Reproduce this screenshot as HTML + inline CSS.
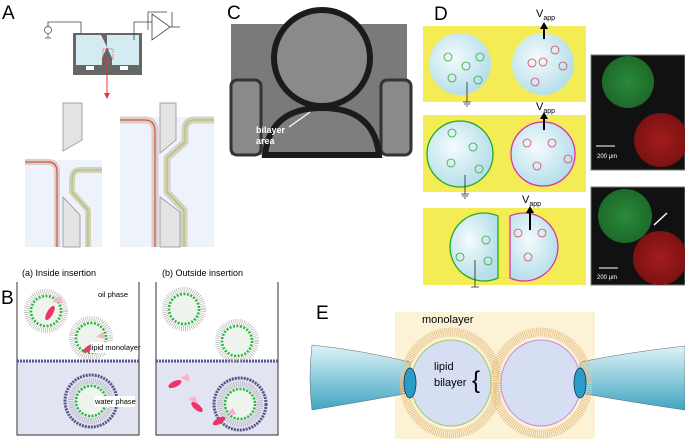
<!DOCTYPE html>
<html><head><style>body{margin:0;background:#fff}svg{display:block}text{font-family:"Liberation Sans",sans-serif}</style></head><body>
<svg width="685" height="441" viewBox="0 0 685 441" xmlns="http://www.w3.org/2000/svg">
<defs>
<radialGradient id="dr" cx="40%" cy="40%" r="60%"><stop offset="0" stop-color="#f4fbfd"/><stop offset="1" stop-color="#b7dfea"/></radialGradient>
<linearGradient id="pip" x1="0" y1="0" x2="0" y2="1"><stop offset="0" stop-color="#dff3f8"/><stop offset="1" stop-color="#3fa5c0"/></linearGradient>
<radialGradient id="gr" cx="50%" cy="50%" r="50%"><stop offset="0" stop-color="#2a8a3a"/><stop offset="1" stop-color="#1d6a2a"/></radialGradient>
<radialGradient id="rd" cx="50%" cy="50%" r="50%"><stop offset="0" stop-color="#a31c1c"/><stop offset="1" stop-color="#7d1212"/></radialGradient>
</defs>
<!-- A -->
<text x="2" y="19" font-size="19">A</text>
<path d="M48 30 V22 H81 V40" fill="none" stroke="#444" stroke-width="0.8"/>
<circle cx="48" cy="30" r="3.5" fill="#fff" stroke="#444" stroke-width="0.7"/>
<path d="M48 34 V38 M45 38 H51" stroke="#444" stroke-width="0.7"/>
<rect x="73" y="33" width="69" height="42" fill="#666"/>
<rect x="76" y="35" width="63" height="30" fill="#d3ecf2"/>
<path d="M100 33 L107 33 L107 47 L102 58 L102 65 L112 65 L112 58 L107 47 Z" fill="#666"/>
<rect x="103" y="49" width="10" height="10" fill="none" stroke="#e33" stroke-width="0.7" stroke-dasharray="1.5 1"/>
<rect x="86" y="66" width="8" height="4" fill="#fff"/><rect x="120" y="66" width="8" height="4" fill="#fff"/>
<path d="M134 40 V22 H152 M167 12 H148 V30 M172 12 V27" fill="none" stroke="#444" stroke-width="0.8"/>
<path d="M152 14 L152 40 L170 27 Z" fill="#fff" stroke="#444" stroke-width="0.8"/>
<path d="M170 27 H180" stroke="#444" stroke-width="0.8"/>
<path d="M107 58 V98" stroke="#e33" stroke-width="1"/><path d="M104 93 L107 99 L110 93 Z" fill="#e33"/>
<path d="M63 103 H82 V140 L63 151 Z" fill="#e4e4e4" stroke="#888" stroke-width="0.7"/>
<rect x="25" y="160" width="77" height="87" fill="#eef2fa"/>
<path d="M25 162 H48 Q57 162 57 172 V247" fill="none" stroke="#d8cfc8" stroke-width="6"/>
<path d="M25 162 H48 Q57 162 57 172 V247" fill="none" stroke="#d33" stroke-width="1"/>
<path d="M63 197 L63 247 L80 247 L80 215 Z" fill="#e4e4e4" stroke="#888" stroke-width="0.7"/>
<path d="M102 170 H80 Q72 170 72 180 V192 L88 210 V247" fill="none" stroke="#d8cfc8" stroke-width="6"/>
<path d="M102 170 H80 Q72 170 72 180 V192 L88 210 V247" fill="none" stroke="#9c3" stroke-width="1"/>
<rect x="120" y="117" width="94" height="130" fill="#eef2fa"/>
<path d="M160 103 H176 V140 L160 153 Z" fill="#e4e4e4" stroke="#888" stroke-width="0.7"/>
<path d="M160 197 V247 H180 V212 Z" fill="#e4e4e4" stroke="#888" stroke-width="0.7"/>
<path d="M120 120 H145 Q155 120 155 132 V247" fill="none" stroke="#d8cfc8" stroke-width="7"/>
<path d="M120 120 H145 Q155 120 155 132 V247" fill="none" stroke="#d33" stroke-width="1"/>
<path d="M214 120 H195 Q185 120 185 130 V142 L167 158 V192 L184 210 V247" fill="none" stroke="#d8cfc8" stroke-width="7"/>
<path d="M214 120 H195 Q185 120 185 130 V142 L167 158 V192 L184 210 V247" fill="none" stroke="#9c3" stroke-width="1"/>
<!-- C -->
<text x="227" y="19" font-size="19">C</text>
<rect x="231" y="24" width="176" height="131" fill="#7a7a7a"/>
<rect x="231" y="80" width="30" height="75" rx="6" fill="#8a8a8a" stroke="#333" stroke-width="3"/>
<rect x="381" y="80" width="30" height="75" rx="6" fill="#8a8a8a" stroke="#333" stroke-width="3"/>
<circle cx="322" cy="58" r="48" fill="#8a8a8a" stroke="#1b1b1b" stroke-width="6"/>
<path d="M265 155 Q270 108 322 108 Q374 108 379 155 Z" fill="#7e7e7e" stroke="#1b1b1b" stroke-width="6"/>
<text x="256" y="133" font-size="9" font-weight="bold" fill="#fff">bilayer</text>
<text x="256" y="144" font-size="9" font-weight="bold" fill="#fff">area</text>
<path d="M289 127 L310 112" stroke="#fff" stroke-width="1.2"/>
<!-- D -->
<text x="434" y="20" font-size="19">D</text>
<rect x="423" y="26" width="163" height="76" fill="#f3ec55"/>
<rect x="423" y="115" width="163" height="77" fill="#f3ec55"/>
<rect x="423" y="208" width="163" height="77" fill="#f3ec55"/>
<circle cx="460" cy="64" r="31" fill="url(#dr)"/><circle cx="543" cy="64" r="31" fill="url(#dr)"/>
<circle cx="460" cy="154" r="33" fill="url(#dr)" stroke="#2a2" stroke-width="1.3"/>
<circle cx="543" cy="154" r="32" fill="url(#dr)" stroke="#d3a" stroke-width="1.3"/>
<path d="M498 216 A34 34 0 1 0 498 278 Z" fill="url(#dr)" stroke="#2a2" stroke-width="1.3"/>
<path d="M510 216 A34 34 0 1 1 510 278 Z" fill="url(#dr)" stroke="#d3a" stroke-width="1.3"/>
<g fill="none" stroke="#3a3" stroke-width="0.8">
<circle cx="448" cy="57" r="4"/><circle cx="466" cy="66" r="4"/><circle cx="480" cy="57" r="4"/><circle cx="452" cy="78" r="4"/><circle cx="478" cy="80" r="4"/>
<circle cx="452" cy="133" r="4"/><circle cx="473" cy="147" r="4"/><circle cx="451" cy="163" r="4"/><circle cx="479" cy="169" r="4"/>
<circle cx="486" cy="240" r="4"/><circle cx="460" cy="257" r="4"/><circle cx="488" cy="261" r="4"/></g>
<g fill="none" stroke="#d46" stroke-width="0.8">
<circle cx="532" cy="63" r="4"/><circle cx="555" cy="50" r="4"/><circle cx="543" cy="62" r="4"/><circle cx="563" cy="66" r="4"/><circle cx="535" cy="82" r="4"/>
<circle cx="527" cy="143" r="4"/><circle cx="552" cy="143" r="4"/><circle cx="568" cy="159" r="4"/><circle cx="537" cy="166" r="4"/>
<circle cx="518" cy="233" r="4"/><circle cx="542" cy="233" r="4"/><circle cx="528" cy="257" r="4"/></g>
<g stroke="#222" stroke-width="0.8" fill="none"><path d="M467 82 V102 M463 102 H471 M464 104 H470 M466 106 H468"/><path d="M465 175 V194 M461 194 H469 M462 196 H468 M464 198 H466"/><path d="M475 260 V287 M471 287 H479"/></g>
<g stroke="#000" stroke-width="2"><path d="M544 39 V28"/><path d="M544 130 V118"/><path d="M530 230 V212"/></g>
<path d="M540 29 L544 22 L548 29 Z M540 119 L544 112 L548 119 Z M526 213 L530 206 L534 213 Z"/>
<text x="536" y="17" font-size="11">V<tspan font-size="7" dy="3">app</tspan></text>
<text x="536" y="110" font-size="11">V<tspan font-size="7" dy="3">app</tspan></text>
<text x="522" y="203" font-size="11">V<tspan font-size="7" dy="3">app</tspan></text>
<rect x="591" y="55" width="94" height="115" fill="#111" stroke="#777"/>
<circle cx="628" cy="82" r="26" fill="url(#gr)"/><circle cx="661" cy="140" r="27" fill="url(#rd)"/>
<path d="M596 146 H615" stroke="#fff"/><text x="597" y="158" font-size="6" fill="#fff">200 μm</text>
<rect x="591" y="187" width="94" height="98" fill="#111" stroke="#777"/>
<circle cx="625" cy="216" r="27" fill="url(#gr)"/><circle cx="660" cy="258" r="27" fill="url(#rd)"/>
<path d="M667 213 L654 225" stroke="#fff" stroke-width="1.5"/>
<path d="M599 268 H618" stroke="#fff"/><text x="597" y="279" font-size="6" fill="#fff">200 μm</text>
<!-- B -->
<text x="1" y="304" font-size="19">B</text>
<text x="22" y="276" font-size="9" font-family="Liberation Serif">(a)  Inside insertion</text>
<text x="162" y="276" font-size="9" font-family="Liberation Serif">(b)  Outside insertion</text>
<rect x="17" y="361" width="122" height="74" fill="#e2e4f2"/><rect x="156" y="361" width="122" height="74" fill="#e2e4f2"/>
<path d="M17 282 V435 H139 V282 M156 282 V435 H278 V282" fill="none" stroke="#555" stroke-width="1.2"/>
<path d="M17 361 H139 M156 361 H278" stroke="#559" stroke-width="3" stroke-dasharray="2 1"/>
<g fill="none" stroke="#aaa" stroke-width="6" stroke-dasharray="0.6 1.4">
<circle cx="46" cy="311" r="19"/><circle cx="91" cy="338" r="19"/><circle cx="91" cy="401" r="20"/><circle cx="184" cy="309" r="19"/><circle cx="237" cy="341" r="19"/><circle cx="240" cy="404" r="20"/></g>
<g fill="#eef3ee" stroke="#2b3" stroke-width="2.5" stroke-dasharray="2 1.5">
<circle cx="46" cy="311" r="15"/><circle cx="91" cy="338" r="15"/><circle cx="91" cy="401" r="15"/><circle cx="184" cy="309" r="15"/><circle cx="237" cy="341" r="15"/><circle cx="240" cy="404" r="15"/></g>
<circle cx="91" cy="401" r="26" fill="none" stroke="#558" stroke-width="3" stroke-dasharray="2 1"/>
<circle cx="240" cy="404" r="26" fill="none" stroke="#558" stroke-width="3" stroke-dasharray="2 1"/>
<g fill="#e36"><ellipse cx="50" cy="313" rx="8" ry="3" transform="rotate(-60 50 313)"/><ellipse cx="90" cy="348" rx="8" ry="3" transform="rotate(-30 90 348)"/><ellipse cx="103" cy="403" rx="8" ry="3"/><ellipse cx="175" cy="384" rx="7" ry="3" transform="rotate(-25 175 384)"/><ellipse cx="197" cy="407" rx="7" ry="3" transform="rotate(40 197 407)"/><ellipse cx="219" cy="421" rx="7" ry="3" transform="rotate(-30 219 421)"/></g>
<g fill="#f5b4cc"><path d="M52 302 l8 -6 l3 7 z"/><path d="M96 337 l7 -5 l3 7 z"/><path d="M110 398 l8 -2 l0 8 z"/><path d="M180 378 l8 -4 l2 8 z"/><path d="M188 399 l7 -3 l3 8 z"/><path d="M226 414 l7 -6 l3 7 z"/></g>
<rect x="98" y="288" width="30" height="12" fill="#fff"/><text x="98" y="297" font-size="7.5" font-family="Liberation Serif">oil phase</text>
<rect x="90" y="342" width="46" height="11" fill="#fff"/><text x="90" y="350" font-size="7.5" font-family="Liberation Serif">lipid monolayer</text>
<rect x="95" y="396" width="40" height="11" fill="#fff"/><text x="95" y="404" font-size="7.5" font-family="Liberation Serif">water phase</text>
<!-- E -->
<text x="316" y="319" font-size="19">E</text>
<rect x="395" y="312" width="200" height="127" fill="#fcf3d6"/>
<path d="M312 345 Q360 350 410 362 V393 Q360 402 312 410 Q308 378 312 345 Z" fill="url(#pip)" stroke="#666" stroke-width="0.5"/>
<path d="M685 346 Q630 352 580 362 V393 Q630 402 685 410 Z" fill="url(#pip)" stroke="#666" stroke-width="0.5"/>
<ellipse cx="451" cy="383" rx="47" ry="51" fill="none" stroke="#e8c48e" stroke-width="9" stroke-dasharray="1 1"/>
<ellipse cx="541" cy="383" rx="47" ry="51" fill="none" stroke="#e8c48e" stroke-width="9" stroke-dasharray="1 1"/>
<ellipse cx="451" cy="383" rx="40" ry="43" fill="#d5def2" stroke="#9c6" stroke-width="1"/>
<ellipse cx="541" cy="383" rx="40" ry="43" fill="#d5def2" stroke="#c8d" stroke-width="1"/>
<ellipse cx="410" cy="383" rx="6" ry="15" fill="#2b9bc8" stroke="#135" stroke-width="0.8"/>
<ellipse cx="580" cy="383" rx="6" ry="15" fill="#2b9bc8" stroke="#135" stroke-width="0.8"/>
<text x="422" y="323" font-size="11">monolayer</text>
<text x="434" y="370" font-size="11">lipid</text><text x="434" y="386" font-size="11">bilayer</text>
<text x="472" y="388" font-size="24" font-weight="300">{</text>
</svg>
</body></html>
